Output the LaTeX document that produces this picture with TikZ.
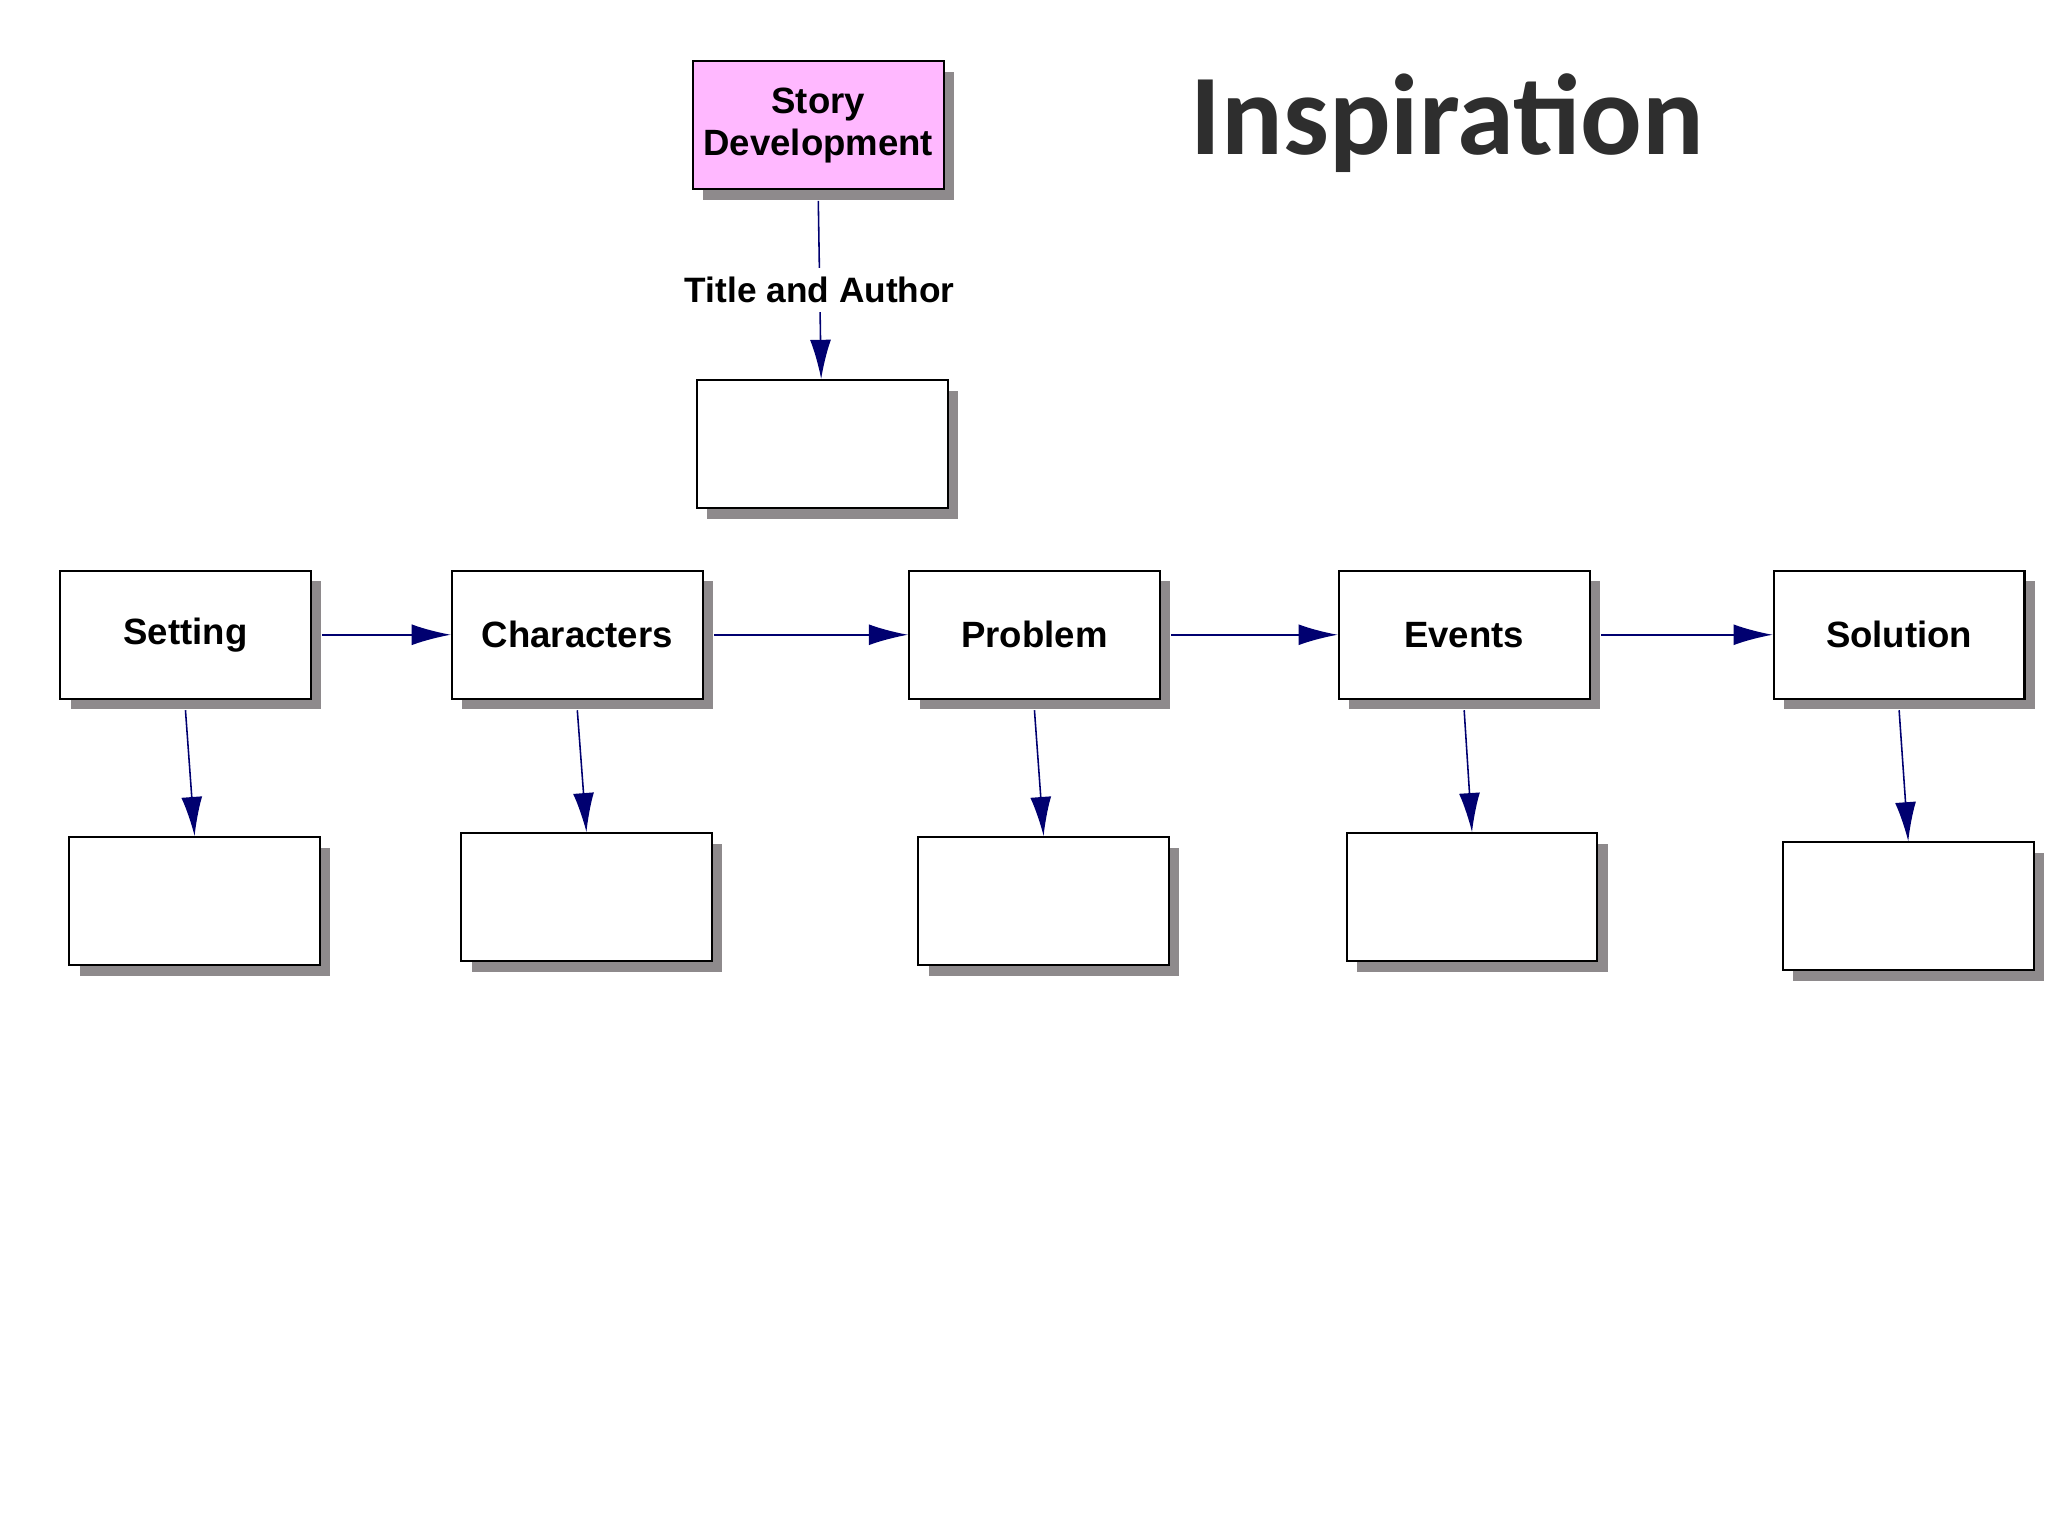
\documentclass[tikz,border=0pt]{standalone}
\usepackage{fontspec}
\setmainfont{Liberation Sans}
\newfontfamily\titlefont{Carlito}
\usetikzlibrary{arrows.meta,shadows}
\definecolor{shadowgray}{HTML}{8E8A8C}
\definecolor{storypink}{HTML}{FFB8FF}
\definecolor{linknavy}{HTML}{000070}
\definecolor{titlegray}{HTML}{2E2E2E}
\tikzset{
  story box/.style={draw, thick, fill=white, minimum width=96pt, minimum height=49pt,
    font=\bfseries\fontsize{14}{16}\selectfont, align=center,
    general shadow={shadow xshift=4pt, shadow yshift=-4pt, fill=shadowgray}},
  link/.style={draw=linknavy, semithick, -{Latex[length=15pt,width=8pt]}},
}
\begin{document}
\begin{tikzpicture}[x=0.5pt, y=0.5pt]
  \useasboundingbox[fill=white] (0,0) rectangle (1568,1176);
  \node[story box, fill=storypink] (story) at (626.5,1080) {Story\\Development};
  \node[story box] (title) at (629.5,836) {};
  \node[story box] (setting) at (142,690) {Setting};
  \node[story box] (characters) at (442,690) {Characters};
  \node[story box] (problem) at (792,690) {Problem};
  \node[story box] (events) at (1121,690) {Events};
  \node[story box] (solution) at (1454,690) {Solution};
  \node[story box] (setting box) at (149,486) {};
  \node[story box] (characters box) at (449,489) {};
  \node[story box] (problem box) at (799,486) {};
  \node[story box] (events box) at (1127,489) {};
  \node[story box] (solution box) at (1461,482) {};
  \node[font=\titlefont\bfseries\fontsize{44}{50}\selectfont, text=titlegray] (heading) at (1108,1082) {Inspiration};
  % links
  \draw[link] ([yshift=-4pt]story.south) -- node[fill=white, font=\bfseries\fontsize{13.5}{16}\selectfont, text=black] {Title and Author} (title);
  \draw[link] ([xshift=4pt]setting.east) -- (characters);
  \draw[link] ([xshift=4pt]characters.east) -- (problem);
  \draw[link] ([xshift=4pt]problem.east) -- (events);
  \draw[link] ([xshift=4pt]events.east) -- (solution);
  \foreach \n in {setting,characters,problem,events,solution}
    \draw[link] ([yshift=-4pt]\n.south) -- (\n\space box.north);
\end{tikzpicture}
\end{document}
